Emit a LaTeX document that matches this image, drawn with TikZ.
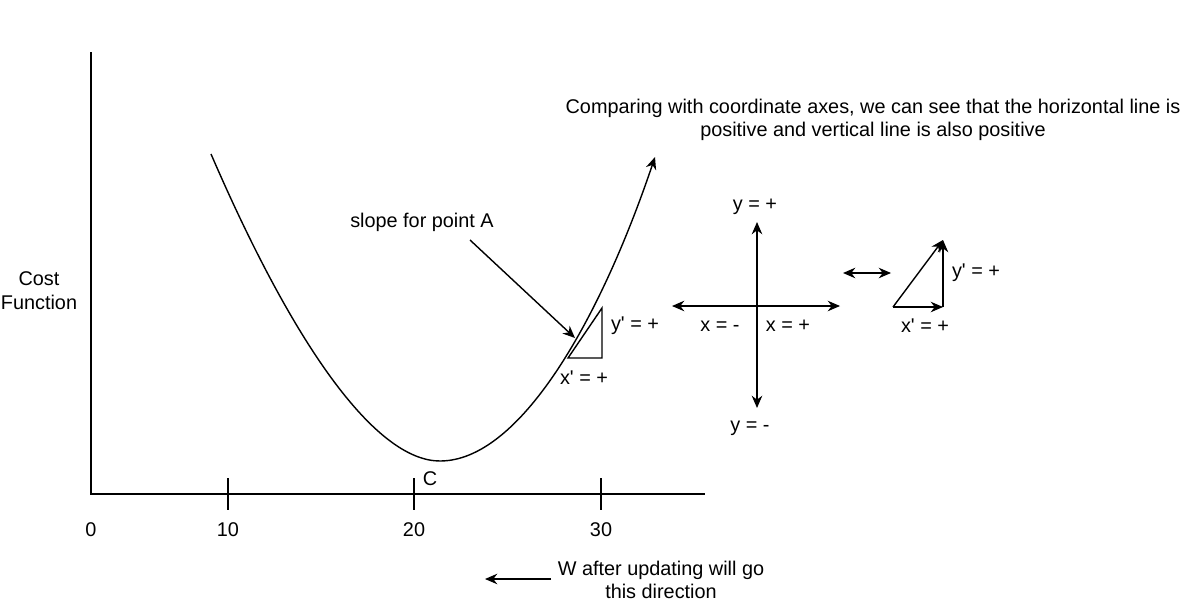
\documentclass[tikz,border=0pt]{standalone}
\usepackage{fontspec}
\setmainfont{Liberation Sans}
\usetikzlibrary{arrows.meta}
\begin{document}
\begin{tikzpicture}[x=0.02cm,y=-0.02cm,line width=0.8pt,
  lbl/.style={font=\fontsize{11.3}{13.5}\selectfont,inner sep=1pt,align=center},
  arr/.style={-{Stealth[length=7pt,width=6pt]}},
  darr/.style={{Stealth[length=7pt,width=6pt]}-{Stealth[length=7pt,width=6pt]}}]
\useasboundingbox (0,0) rectangle (1200,605);
\coordinate (yt) at (91,52); \coordinate (o) at (91,494); \coordinate (xe) at (705,494);
\draw (yt) -- (o) -- (xe);
\foreach \x/\t in {228/10,414/20,601/30}{\draw (\x,478) -- (\x,510); \node[lbl] (t\t) at (\x,530) {\t};}
\node[lbl] (t0) at (91,530) {0};
\node[lbl] (c) at (430,479) {C};
\node[lbl] (cf) at (39,291) {Cost\\Function};
\coordinate (cs) at (211,154); \coordinate (cm) at (440,461); \coordinate (ce) at (655,157);
\draw[arr] (cs) .. controls (300,360) and (380,461) .. (cm) .. controls (520,461) and (600,320) .. (ce);
\coordinate (ta) at (568,358); \coordinate (tb) at (602,358); \coordinate (tc) at (602,308);
\draw (ta) -- (tb) -- (tc) -- cycle;
\node[lbl] (yp) at (635,326) {y\textquotesingle{} = +};
\node[lbl] (xp) at (584,378) {x\textquotesingle{} = +};
\node[lbl] (sl) at (422,222) {slope for point A};
\coordinate (s1) at (470,240); \coordinate (s2) at (575,338);
\draw[arr] (s1) -- (s2);
\node[lbl] (top) at (873,120) {Comparing with coordinate axes, we can see that the horizontal line is\\positive and vertical line is also positive};
\coordinate (vu) at (757,222); \coordinate (vd) at (757,408);
\coordinate (hl) at (672,306); \coordinate (hr) at (840,306);
\draw[darr] (vu) -- (vd); \draw[darr] (hl) -- (hr);
\node[lbl] (yplus) at (755,207) {y = +};
\node[lbl] (yminus) at (750,428) {y = -};
\node[lbl] (xminus) at (720,326) {x = -};
\node[lbl] (xplus) at (788,326) {x = +};
\coordinate (d1) at (843,273); \coordinate (d2) at (891,273);
\draw[darr] (d1) -- (d2);
\coordinate (sa) at (893,307); \coordinate (sb) at (943,307); \coordinate (sc) at (943,240);
\draw[arr] (sa) -- (sb); \draw[arr] (sb) -- (sc); \draw[arr] (sa) -- (sc);
\node[lbl] (syp) at (976,273) {y\textquotesingle{} = +};
\node[lbl] (sxp) at (925,326) {x\textquotesingle{} = +};
\coordinate (w1) at (551,579); \coordinate (w2) at (485,579);
\draw[arr] (w1) -- (w2);
\node[lbl] (w) at (661,580) {W after updating will go\\this direction};
\end{tikzpicture}
\end{document}
